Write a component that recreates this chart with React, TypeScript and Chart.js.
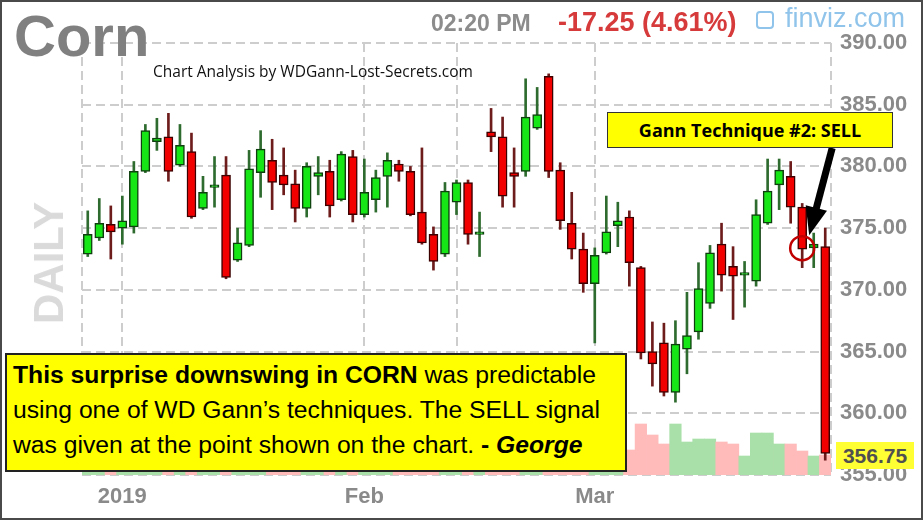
import React, { useEffect, useRef } from "react";
import { Chart, registerables } from "chart.js";

Chart.register(...registerables);

// ---------- data ----------
const categories = [
  "Dec 27", "Dec 28", "Dec 31",
  "Jan 2", "Jan 3", "Jan 4", "Jan 7", "Jan 8", "Jan 9", "Jan 10", "Jan 11", "Jan 14", "Jan 15",
  "Jan 16", "Jan 17", "Jan 18", "Jan 22", "Jan 23", "Jan 24", "Jan 25", "Jan 28", "Jan 29", "Jan 30", "Jan 31",
  "Feb 1", "Feb 4", "Feb 5", "Feb 6", "Feb 7", "Feb 8", "Feb 11", "Feb 12", "Feb 13", "Feb 14", "Feb 15",
  "Feb 18", "Feb 19", "Feb 20", "Feb 21", "Feb 22", "Feb 25", "Feb 26", "Feb 27", "Feb 28",
  "Mar 1", "Mar 4", "Mar 5", "Mar 6", "Mar 7", "Mar 8", "Mar 11", "Mar 12", "Mar 13", "Mar 14", "Mar 15",
  "Mar 18", "Mar 19", "Mar 20", "Mar 21", "Mar 22", "Mar 25", "Mar 26", "Mar 27", "Mar 28", "Mar 29",
];

const xTickLabels: Record<string, string> = { "Jan 2": "2019", "Feb 1": "Feb", "Mar 1": "Mar" };

const opens = [
  372.9, 374.2, 375.3, 375.0, 375.1, 379.6, 382.0, 382.4, 380.1, 381.2,
  376.6, 378.3, 379.3, 372.4, 373.6, 379.5, 380.5, 379.3, 378.6, 376.6,
  379.2, 379.6, 377.3, 380.8, 376.1, 377.3, 379.2, 380.2, 379.6, 376.3,
  374.5, 372.9, 377.1, 378.7, 374.5, 382.8, 382.4, 379.5, 379.6, 383.1,
  387.3, 379.7, 375.4, 373.3, 370.5, 373.0, 375.2, 375.9, 371.8, 365.0,
  365.7, 361.7, 365.2, 366.6, 368.9, 373.7, 371.9, 371.2, 370.7, 375.4,
  378.5, 379.2, 376.7, 373.4, 373.5,
];
const highs = [
  376.4, 377.4, 376.8, 377.6, 380.4, 383.4, 383.9, 384.3, 383.4, 382.7,
  379.2, 380.8, 380.8, 375.0, 381.3, 382.9, 382.2, 381.5, 379.7, 380.3,
  380.8, 380.5, 381.2, 381.3, 380.6, 379.7, 381.1, 380.5, 380.0, 381.5,
  375.1, 378.7, 378.9, 378.9, 376.3, 384.7, 384.0, 381.5, 387.1, 386.4,
  387.5, 380.3, 377.9, 374.6, 373.4, 377.6, 377.1, 376.4, 371.9, 367.4,
  367.3, 367.5, 369.8, 372.2, 373.6, 375.4, 373.5, 372.3, 377.3, 380.6,
  380.6, 380.4, 377.0, 374.6, 375.0,
];
const lows = [
  372.7, 374.0, 372.5, 373.7, 374.6, 379.5, 381.3, 378.8, 380.0, 375.8,
  376.5, 376.7, 370.9, 372.3, 373.5, 377.5, 376.5, 377.7, 375.5, 375.9,
  377.7, 375.9, 377.2, 375.5, 375.9, 376.3, 376.7, 378.8, 376.0, 373.7,
  371.6, 372.7, 376.1, 373.7, 372.7, 381.2, 376.7, 376.7, 379.2, 383.0,
  379.1, 374.9, 372.5, 369.8, 365.7, 372.9, 373.5, 370.3, 364.4, 362.2,
  361.4, 360.9, 363.2, 366.0, 368.5, 369.9, 367.6, 368.6, 370.3, 375.3,
  376.5, 375.4, 371.8, 371.8, 356.2,
];
const closes = [
  374.5, 375.4, 374.7, 375.6, 379.6, 382.9, 382.3, 379.6, 381.7, 375.9,
  377.9, 378.5, 371.0, 373.8, 379.8, 381.4, 378.7, 378.5, 376.6, 380.0,
  379.5, 376.8, 381.0, 376.1, 377.9, 379.1, 380.5, 379.6, 376.1, 373.8,
  372.3, 378.0, 378.7, 374.5, 374.7, 382.4, 377.6, 379.2, 384.0, 384.2,
  379.6, 375.6, 373.3, 370.5, 372.8, 374.7, 375.6, 372.2, 364.9, 364.0,
  361.7, 365.6, 366.3, 370.1, 373.0, 371.2, 371.1, 371.4, 376.1, 378.0,
  379.7, 376.7, 373.3, 373.7, 356.75,
];
const volumes = [
  260, 230, 300, 280, 350, 400, 320, 380, 290, 360,
  300, 280, 420, 330, 380, 300, 310, 290, 280, 330,
  260, 300, 310, 340, 330, 290, 300, 250, 310, 350,
  340, 330, 280, 330, 290, 360, 380, 300, 420, 360,
  450, 400, 380, 390, 470, 330, 250, 250, 510, 400,
  310, 510, 330, 360, 360, 330, 310, 190, 420, 420,
  310, 310, 240, 190, 200,
];

const priceMin = 355;
const priceMax = 390;
const priceStep = 5;
const volumeAxisMax = 4320;
const signalIndex = 62;

// ---------- styles ----------
const GRID = "#cdcdcd";
const AXIS_TEXT = "#8a8a8a";
const isUp = (i: number) => closes[i] >= opens[i];

const marksPlugin = {
  id: "gannMarks",
  afterDatasetsDraw(chart: any) {
    const { ctx, scales } = chart;
    const cx = scales.x.getPixelForValue(signalIndex);
    const cy = scales.y.getPixelForValue(closes[signalIndex]);
    ctx.save();
    // circle
    ctx.strokeStyle = "#c00000";
    ctx.lineWidth = 2.5;
    ctx.beginPath();
    ctx.arc(cx, cy - 1, 12, 0, Math.PI * 2);
    ctx.stroke();
    // arrow
    const tipX = cx + 7;
    const tipY = cy - 14;
    const sx = cx + 30;
    const sy = 148;
    const dx = tipX - sx;
    const dy = tipY - sy;
    const len = Math.hypot(dx, dy);
    const ux = dx / len;
    const uy = dy / len;
    const headLen = 28;
    const headHalf = 11;
    const bx = tipX - ux * headLen;
    const by = tipY - uy * headLen;
    ctx.strokeStyle = "#000";
    ctx.lineWidth = 7;
    ctx.beginPath();
    ctx.moveTo(sx, sy);
    ctx.lineTo(bx + ux * 2, by + uy * 2);
    ctx.stroke();
    ctx.fillStyle = "#000";
    ctx.beginPath();
    ctx.moveTo(tipX, tipY);
    ctx.lineTo(bx - uy * headHalf, by + ux * headHalf);
    ctx.lineTo(bx + uy * headHalf, by - ux * headHalf);
    ctx.closePath();
    ctx.fill();
    ctx.restore();
  },
};

export default function App() {
  const canvasRef = useRef<HTMLCanvasElement>(null);

  useEffect(() => {
    const bodyData = opens.map((o, i) => [o, closes[i]]);
    const wickData = lows.map((l, i) => [l, highs[i]]);
    const chart = new Chart(canvasRef.current as HTMLCanvasElement, {
      type: "bar",
      data: {
        labels: categories,
        datasets: [
          {
            label: "Body",
            data: bodyData as any,
            xAxisID: "x",
            yAxisID: "y",
            grouped: false,
            order: 1,
            barThickness: 9,
            borderWidth: 1.5,
            borderSkipped: false,
            backgroundColor: categories.map((_, i) => (isUp(i) ? "#16e616" : "#f20000")),
            borderColor: categories.map((_, i) => (isUp(i) ? "#0f3f0f" : "#3d0000")),
          } as any,
          {
            label: "Wick",
            data: wickData as any,
            xAxisID: "x",
            yAxisID: "y",
            grouped: false,
            order: 2,
            barThickness: 2,
            borderWidth: 0,
            backgroundColor: categories.map((_, i) => (isUp(i) ? "#2e6b2e" : "#6e1b1b")),
          } as any,
          {
            label: "Volume",
            data: volumes,
            xAxisID: "x",
            yAxisID: "yv",
            grouped: false,
            order: 3,
            barPercentage: 1,
            categoryPercentage: 1,
            borderWidth: 0,
            backgroundColor: categories.map((_, i) => (isUp(i) ? "#a9dfa9" : "#ffbaba")),
          } as any,
        ],
      },
      options: {
        animation: false,
        responsive: true,
        maintainAspectRatio: false,
        layout: { padding: { left: 82, top: 43, right: 0, bottom: 0 } },
        plugins: { legend: { display: false }, tooltip: { enabled: false } },
        scales: {
          x: {
            type: "category",
            offset: true,
            grid: {
              offset: false,
              drawTicks: false,
              lineWidth: 2,
              color: (ctx: any) =>
                xTickLabels[categories[ctx.index]] ? GRID : "rgba(0,0,0,0)",
            },
            border: { display: false, dash: [9, 5] },
            ticks: {
              autoSkip: false,
              maxRotation: 0,
              padding: 9,
              color: AXIS_TEXT,
              font: { family: "'Liberation Sans', Arial, sans-serif", size: 22, weight: "bold" },
              callback: (_v: any, i: number) => xTickLabels[categories[i]] ?? "",
            },
            afterFit: (s: any) => {
              s.height = 45;
            },
          },
          x2: {
            type: "linear",
            position: "top",
            min: 0,
            max: 1,
            ticks: { display: false, stepSize: 1 },
            grid: { color: GRID, lineWidth: 2, drawTicks: false },
            border: { display: false, dash: [9, 5] },
            afterFit: (s: any) => {
              s.height = 0;
            },
          },
          y: {
            type: "linear",
            position: "right",
            min: priceMin,
            max: priceMax,
            ticks: {
              stepSize: priceStep,
              padding: 9,
              color: AXIS_TEXT,
              font: { family: "'Liberation Sans', Arial, sans-serif", size: 22, weight: "bold" },
              callback: (v: any) => Number(v).toFixed(2),
            },
            grid: { color: GRID, lineWidth: 2, drawTicks: false },
            border: { display: false, dash: [9, 5] },
            afterFit: (s: any) => {
              s.width = 92;
            },
          },
          yv: {
            type: "linear",
            display: false,
            min: 0,
            max: volumeAxisMax,
          },
        },
      } as any,
      plugins: [marksPlugin],
    });
    return () => chart.destroy();
  }, []);

  const abs: React.CSSProperties = { position: "absolute", whiteSpace: "nowrap" };

  return (
    <div
      style={{
        position: "fixed",
        left: 0,
        top: 0,
        width: 923,
        height: 520,
        background: "#fff",
        overflow: "hidden",
        fontFamily: "'Liberation Sans', Arial, sans-serif",
      }}
    >
      <div style={{ position: "absolute", left: 0, top: 0, width: 923, height: 520 }}>
        <canvas ref={canvasRef} />
      </div>

      <div style={{ ...abs, left: 14, top: 7, fontSize: 58, lineHeight: "58px", fontWeight: "bold", color: "#808080" }}>
        Corn
      </div>
      <div style={{ ...abs, left: 431, top: 12, fontSize: 23, lineHeight: "23px", fontWeight: "bold", color: "#8c8c8c" }}>
        02:20 PM
      </div>
      <div style={{ ...abs, left: 558, top: 9, fontSize: 27, lineHeight: "27px", fontWeight: "bold", color: "#d63a3a" }}>
        -17.25 (4.61%)
      </div>
      <div
        style={{
          ...abs,
          left: 756,
          top: 11,
          width: 14,
          height: 14,
          border: "2.5px solid #90c4ea",
          borderRadius: 4,
        }}
      />
      <div style={{ ...abs, left: 785, top: 5, fontSize: 27, lineHeight: "27px", color: "#90c4ea" }}>finviz.com</div>

      <div
        style={{
          ...abs,
          left: 49,
          top: 263,
          fontSize: 42,
          lineHeight: "42px",
          fontWeight: "bold",
          color: "#dadada",
          transform: "translate(-50%, -50%) rotate(-90deg)",
        }}
      >
        DAILY
      </div>

      <div style={{ ...abs, left: 153, top: 64, fontSize: 15.5, lineHeight: "15.5px", color: "#111", fontFamily: "'Open Sans', sans-serif" }}>
        Chart Analysis by WDGann-Lost-Secrets.com
      </div>

      <div
        style={{
          ...abs,
          left: 607,
          top: 112,
          width: 286,
          height: 36,
          boxSizing: "border-box",
          background: "#ffff00",
          border: "1.5px solid #333",
          display: "flex",
          alignItems: "center",
          justifyContent: "center",
          fontFamily: "'Open Sans', sans-serif",
          fontWeight: "bold",
          fontSize: 18,
          color: "#000",
        }}
      >
        Gann Technique #2: SELL
      </div>

      <div
        style={{
          ...abs,
          left: 5,
          top: 353,
          width: 622,
          height: 119,
          boxSizing: "border-box",
          background: "#ffff00",
          border: "2px solid #222",
          padding: "2px 0 0 6px",
          fontSize: 24.7,
          color: "#000",
        }}
      >
        <div style={{ lineHeight: "35px" }}>
          <b>This surprise downswing in CORN</b> was predictable
        </div>
        <div style={{ lineHeight: "35px" }}>using one of WD Gann’s techniques. The SELL signal</div>
        <div style={{ lineHeight: "35px" }}>
          was given at the point shown on the chart. <b>- <i>George</i></b>
        </div>
      </div>

      <div
        style={{
          ...abs,
          left: 836,
          top: 442,
          width: 78,
          height: 27,
          background: "#ffff33",
          textAlign: "center",
          fontSize: 21,
          lineHeight: "27px",
          fontWeight: "bold",
          color: "#505050",
        }}
      >
        356.75
      </div>

      <div
        style={{
          position: "absolute",
          left: 0,
          top: 0,
          width: 923,
          height: 520,
          boxSizing: "border-box",
          border: "2px solid #4a4a4a",
          pointerEvents: "none",
        }}
      />
    </div>
  );
}
